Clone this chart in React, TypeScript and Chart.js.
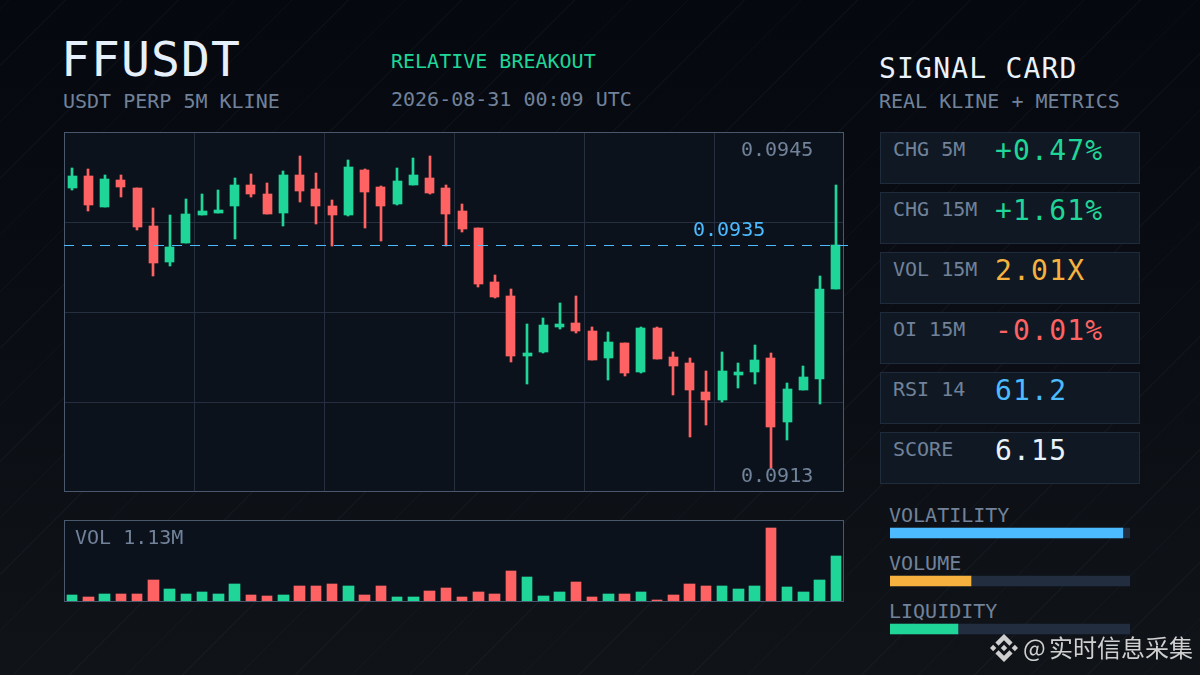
import React, { useEffect, useRef } from "react";
import { Chart, registerables } from "chart.js";

Chart.register(...registerables);

const opens = [0.09407,0.09419,0.09388,0.09415,0.09407,0.09369,0.09333,0.09352,0.0938,0.09382,0.09389,0.0941,0.09401,0.09382,0.0942,0.09406,0.09389,0.0938,0.09425,0.09408,0.09391,0.0941,0.09417,0.09407,0.09384,0.09367,0.09313,0.09299,0.09239,0.09243,0.09268,0.09272,0.09264,0.09237,0.09252,0.09223,0.09267,0.09238,0.09232,0.09203,0.09195,0.0922,0.09223,0.09237,0.09173,0.09205,0.09216,0.09306];
const closes = [0.09419,0.0939,0.09416,0.09408,0.09368,0.09332,0.09348,0.09381,0.09384,0.09385,0.0941,0.09401,0.09381,0.0942,0.09404,0.09389,0.0938,0.09428,0.09403,0.09389,0.09414,0.0942,0.09402,0.09381,0.09366,0.09311,0.09298,0.09239,0.09242,0.0927,0.09271,0.09264,0.09235,0.09253,0.09222,0.09267,0.09236,0.09229,0.09205,0.09195,0.09224,0.09223,0.09235,0.09168,0.09206,0.09218,0.09306,0.0935];
const highs = [0.09427,0.09426,0.0942,0.0942,0.09407,0.09387,0.0938,0.09396,0.09401,0.09405,0.09417,0.09421,0.09412,0.09424,0.09439,0.09422,0.09395,0.09435,0.09426,0.09409,0.09427,0.09437,0.09439,0.0941,0.09391,0.09367,0.0932,0.09306,0.09271,0.09277,0.09292,0.09299,0.09268,0.09263,0.09252,0.09268,0.09268,0.09243,0.09237,0.09224,0.09243,0.09232,0.0925,0.09242,0.09212,0.09229,0.09319,0.0941];
const lows = [0.09405,0.09384,0.09388,0.09398,0.09365,0.09319,0.09329,0.09352,0.0938,0.09382,0.09356,0.09398,0.09381,0.09369,0.09393,0.09371,0.09349,0.09379,0.09367,0.09354,0.0939,0.0941,0.09401,0.09349,0.09363,0.09308,0.09297,0.09233,0.09211,0.09242,0.09266,0.09262,0.09235,0.09215,0.09219,0.09222,0.09236,0.092,0.09158,0.0917,0.09193,0.09207,0.09211,0.09127,0.09155,0.09205,0.09191,0.09306];
const volumes = [150,100,175,175,175,525,300,175,225,175,425,150,125,150,375,375,425,375,150,375,100,100,250,325,100,225,175,750,600,125,225,475,100,175,175,225,25,150,425,375,375,300,375,1825,350,225,525,1130];
const lastPrice = 0.0935;
const priceMin = 0.09103;
const priceMax = 0.09463;
const priceGrid = [0.09193, 0.09283, 0.09373];
const volumeMin = -25;
const volumeMax = 2025;
const xGridEvery = 8;

const gaugeLabels = ["VOLATILITY", "VOLUME", "LIQUIDITY"];
const gaugeValues = [97, 33.75, 28.3];
const gaugeColors = ["#4DBBFF", "#F7B13F", "#1FD698"];

const cardLabels = ["CHG 5M", "CHG 15M", "VOL 15M", "OI 15M", "RSI 14", "SCORE"];
const cardValues = ["+0.47%", "+1.61%", "2.01X", "-0.01%", "61.2", "6.15"];
const cardColors = ["#1FD698", "#1FD698", "#F7B13F", "#FF6262", "#4DBBFF", "#EAF2FB"];

const GREEN = "#1FD698";
const RED = "#FF6262";
const BLUE = "#4DBBFF";
const GRAY = "#71829A";
const MONO = '"DejaVu Sans Mono", monospace';
const PANEL = "#0B121C";
const FRAME = "#4A586E";
const GRID = "#252F40";

const labels = opens.map((_, i) => String(i));
const colors = opens.map((o, i) => (closes[i] >= o ? GREEN : RED));

const framePlugin = {
  id: "frame",
  beforeDraw(chart: any) {
    const a = chart.chartArea;
    const c = chart.ctx;
    c.save();
    c.fillStyle = PANEL;
    c.fillRect(a.left, a.top, a.right - a.left, a.bottom - a.top);
    c.restore();
  },
  afterDatasetsDraw(chart: any) {
    const a = chart.chartArea;
    const c = chart.ctx;
    c.save();
    c.strokeStyle = FRAME;
    c.lineWidth = 1;
    c.strokeRect(a.left + 0.5, a.top + 0.5, a.right - a.left - 1, a.bottom - a.top - 1);
    c.restore();
  },
};

// Snap the library's computed bar rectangles to whole pixels so edges stay crisp.
const snapPlugin = {
  id: "snap",
  beforeDatasetsDraw(chart: any) {
    chart.getSortedVisibleDatasetMetas().forEach((meta: any) => {
      meta.data.forEach((el: any) => {
        const l = Math.round(el.x - el.width / 2);
        const r = Math.round(el.x + el.width / 2);
        el.x = (l + r) / 2;
        el.width = r - l;
        el.y = Math.round(el.y);
        el.base = Math.round(el.base);
      });
    });
  },
};

const lastPricePlugin = {
  id: "lastPrice",
  afterDraw(chart: any) {
    const y = Math.round(chart.scales.y.getPixelForValue(lastPrice)) + 0.5;
    const c = chart.ctx;
    c.save();
    c.strokeStyle = BLUE;
    c.lineWidth = 1;
    c.setLineDash([10, 8]);
    c.beginPath();
    c.moveTo(chart.chartArea.left, y);
    c.lineTo(chart.width, y);
    c.stroke();
    c.restore();
  },
};

const hiddenAxis = { ticks: { display: false }, border: { display: false }, grid: { display: false, drawTicks: false } };

function Text(p: { x: number; y: number; size: number; color: string; children: any; spacing?: number }) {
  return (
    <div
      style={{
        position: "absolute",
        left: p.x,
        top: p.y - p.size,
        height: p.size * 2,
        lineHeight: `${p.size * 2}px`,
        fontFamily: MONO,
        fontSize: p.size,
        color: p.color,
        letterSpacing: p.spacing ?? 0,
        whiteSpace: "pre",
      }}
    >
      {p.children}
    </div>
  );
}

export default function App() {
  const candleRef = useRef<HTMLCanvasElement>(null);
  const volumeRef = useRef<HTMLCanvasElement>(null);
  const gaugeRef = useRef<HTMLCanvasElement>(null);

  useEffect(() => {
    const candle = new Chart(candleRef.current!, {
      type: "bar",
      data: {
        labels,
        datasets: [
          {
            data: lows.map((l, i) => [l, highs[i]]) as any,
            backgroundColor: colors,
            barThickness: 2,
            grouped: false,
            order: 2,
            borderWidth: 0,
          },
          {
            data: opens.map((o, i) => [o, closes[i]]) as any,
            backgroundColor: colors,
            barThickness: 9,
            grouped: false,
            order: 1,
            borderWidth: 0,
          },
        ],
      },
      options: {
        animation: false,
        responsive: false,
        layout: { padding: { right: 6 } },
        plugins: { legend: { display: false }, tooltip: { enabled: false } },
        scales: {
          x: {
            type: "category",
            offset: true,
            ticks: { display: false },
            border: { display: false },
            grid: {
              offset: true,
              drawTicks: false,
              lineWidth: 1,
              color: (ctx: any) => (ctx.index % xGridEvery === 0 ? GRID : "rgba(0,0,0,0)"),
            },
          },
          y: {
            min: priceMin,
            max: priceMax,
            ticks: { display: false },
            border: { display: false },
            grid: { drawTicks: false, color: GRID },
            afterBuildTicks: (s: any) => {
              s.ticks = priceGrid.map((value) => ({ value }));
            },
          },
        },
      } as any,
      plugins: [framePlugin, snapPlugin, lastPricePlugin],
    });

    const volume = new Chart(volumeRef.current!, {
      type: "bar",
      data: {
        labels,
        datasets: [
          {
            data: volumes,
            backgroundColor: colors,
            barThickness: 10.6,
            borderWidth: 0,
          },
        ],
      },
      options: {
        animation: false,
        responsive: false,
        plugins: { legend: { display: false }, tooltip: { enabled: false } },
        scales: {
          x: hiddenAxis,
          y: { min: volumeMin, max: volumeMax, ...hiddenAxis },
        },
      } as any,
      plugins: [framePlugin, snapPlugin],
    });

    const gauge = new Chart(gaugeRef.current!, {
      type: "bar",
      data: {
        labels: gaugeLabels,
        datasets: [
          {
            data: gaugeValues,
            backgroundColor: gaugeColors,
            barThickness: 10,
            grouped: false,
            order: 1,
            borderWidth: 0,
          },
          {
            data: gaugeLabels.map(() => 100),
            backgroundColor: "#222E40",
            barThickness: 10,
            grouped: false,
            order: 2,
            borderWidth: 0,
          },
        ],
      },
      options: {
        indexAxis: "y",
        animation: false,
        responsive: false,
        plugins: { legend: { display: false }, tooltip: { enabled: false } },
        scales: {
          x: { min: 0, max: 100, ...hiddenAxis },
          y: hiddenAxis,
        },
      } as any,
    });

    return () => {
      candle.destroy();
      volume.destroy();
      gauge.destroy();
    };
  }, []);

  return (
    <div
      style={{
        position: "fixed",
        left: 0,
        top: 0,
        width: 1200,
        height: 675,
        overflow: "hidden",
        background:
          "repeating-linear-gradient(-45deg, rgba(255,255,255,0) 0 39px, rgba(150,170,200,0.04) 39px 40px), linear-gradient(180deg, #05080E 0%, #0A0E14 50%, #101419 100%)",
      }}
    >
      <Text x={61} y={59} size={48} color="#E6F0FA" spacing={1.1}>FFUSDT</Text>
      <Text x={63} y={101} size={20} color={GRAY}>USDT PERP 5M KLINE</Text>
      <Text x={391} y={61} size={20} color={GREEN}>RELATIVE BREAKOUT</Text>
      <Text x={391} y={99} size={20} color={GRAY}>2026-08-31 00:09 UTC</Text>
      <Text x={879} y={69} size={28} color="#EAF2FB" spacing={1.2}>SIGNAL CARD</Text>
      <Text x={879} y={101} size={20} color={GRAY}>REAL KLINE + METRICS</Text>

      <canvas ref={candleRef} width={786} height={360} style={{ position: "absolute", left: 64, top: 132, width: 786, height: 360 }} />
      <Text x={741} y={149} size={20} color={GRAY}>0.0945</Text>
      <Text x={693} y={229} size={20} color={BLUE}>0.0935</Text>
      <Text x={741} y={475} size={20} color={GRAY}>0.0913</Text>

      <canvas ref={volumeRef} width={780} height={82} style={{ position: "absolute", left: 64, top: 520, width: 780, height: 82 }} />
      <Text x={75} y={537} size={20} color={GRAY}>VOL 1.13M</Text>

      {cardLabels.map((label, i) => (
        <React.Fragment key={label}>
          <div
            style={{
              position: "absolute",
              left: 880,
              top: 132 + i * 60,
              width: 258,
              height: 50,
              background: "#101923",
              border: "1px solid #1F2B3B",
            }}
          />
          <Text x={893} y={149 + i * 60} size={20} color={GRAY}>{label}</Text>
          <Text x={995} y={151 + i * 60} size={28} color={cardColors[i]} spacing={1.2}>{cardValues[i]}</Text>
        </React.Fragment>
      ))}

      {gaugeLabels.map((label, i) => (
        <Text key={label} x={889} y={515 + i * 48} size={20} color={GRAY}>{label}</Text>
      ))}
      <canvas ref={gaugeRef} width={240} height={144} style={{ position: "absolute", left: 890, top: 509, width: 240, height: 144 }} />

      <svg viewBox="0 0 126.61 126.61" width={28} height={28} style={{ position: "absolute", left: 990, top: 634 }}>
        <path
          fill="#CFCFCF"
          d="m38.73 53.2 24.59-24.58 24.6 24.6 14.3-14.31L63.32 0 24.43 38.9zM0 63.31l14.3-14.31 14.31 14.31-14.31 14.3zM38.73 73.41l24.59 24.59 24.6-24.6 14.31 14.29-38.9 38.91-38.91-38.88zM98 63.31l14.3-14.31 14.31 14.3-14.31 14.31zM77.83 63.3 63.32 48.78 52.59 59.51l-1.24 1.23-2.54 2.54 14.51 14.5 14.51-14.47z"
        />
      </svg>
      <div
        style={{
          position: "absolute",
          left: 1023,
          top: 631,
          height: 32,
          lineHeight: "32px",
          fontFamily: '"Noto Sans CJK SC", sans-serif',
          fontSize: 24,
          wordSpacing: -2,
          color: "#CFCFCF",
          whiteSpace: "pre",
        }}
      >
        @ 实时信息采集
      </div>
    </div>
  );
}
